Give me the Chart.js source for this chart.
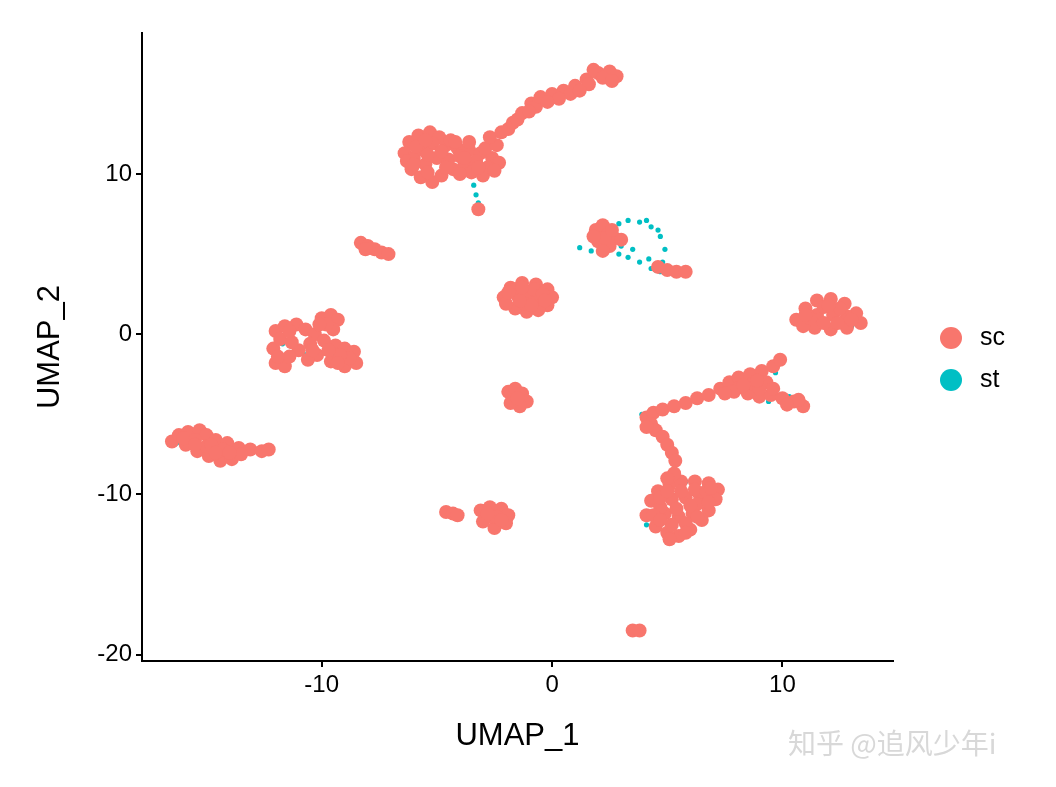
<!DOCTYPE html>
<html>
<head>
<meta charset="utf-8">
<script src="https://cdn.jsdelivr.net/npm/chart.js@4/dist/chart.umd.min.js"></script>
<style>
body { margin: 0; background: #fff; font-family: "Liberation Sans", Arial, sans-serif; }
#wrap { position: relative; width: 1056px; height: 787px; }
.leg { position: absolute; left: 940px; font-size: 25px; color: #000; }
.leg span { display: inline-block; width: 22px; height: 22px; border-radius: 50%; vertical-align: middle; margin-right: 18px; }
#mark { position: absolute; left: 788px; top: 722px; font-family: "Noto Sans CJK SC"; font-size: 28px; color: #d8d8d8; }
</style>
</head>
<body>
<div id="wrap">
<canvas id="chart" width="1056" height="787"></canvas>
<div class="leg" style="top:322px"><span style="background:#F8766D"></span>sc</div>
<div class="leg" style="top:364px"><span style="background:#00BFC4"></span>st</div>
<div id="mark">知乎 @追风少年i</div>
</div>
<script>
// groups and tick values
const groups = ['sc', 'st'];
const xTicks = [-10, 0, 10];
const yTicks = [-20, -10, 0, 10];

// sc cells
const scTop = [[-6.2,12.0],[-5.8,12.4],[-5.3,12.6],[-4.9,12.3],[-6.4,11.3],[-6.0,11.0],[-5.6,11.5],[-5.2,11.9],[-4.6,11.8],[-4.1,11.6],[-3.6,11.5],[-3.1,11.3],[-2.6,11.0],[-2.3,10.7],[-6.1,10.3],[-5.7,9.8],[-5.2,9.5],[-4.8,9.9],[-4.3,10.3],[-3.8,10.6],[-3.3,10.8],[-2.8,10.4],[-5.5,10.6],[-5.0,11.0],[-4.5,10.9],[-4.0,11.1],[-3.5,10.1],[-3.0,9.9],[-5.9,11.7],[-6.3,10.8],[-4.4,12.1],[-2.5,10.2],
  [-5.4,11.2],[-4.8,11.4],[-4.2,12.0],[-3.8,11.0],[-3.2,10.4],[-2.9,11.6],[-5.5,12.1],[-6.0,10.6],[-5.4,10.1],[-4.6,10.4],[-4.0,10.0],[-3.6,12.0],[-2.4,11.8],
  [-2.7,12.3],[-2.2,12.6],[-1.9,12.8],[-1.7,13.2],[-1.5,13.4],[-1.3,13.8],[-0.9,14.4],[-0.7,14.2],[-0.5,14.8],[0,15.0],[0.5,15.2],[0.8,15.0],[1.0,15.5],[1.5,15.9],[1.6,15.6],[2.0,16.3],[2.5,16.4],[2.8,16.1],[1.8,16.5],[2.2,16.0],[0.3,14.7],[-0.2,14.5],[-1.0,13.9],[1.2,15.2],[2.6,15.8]];
const scSmall = [[-8.3,5.7],[-8.0,5.5],[-7.7,5.3],[-7.4,5.1],[-7.1,5.0],[-8.1,5.3],[-3.2,7.8]];
const scRing = [[1.9,6.5],[2.2,6.8],[2.4,6.2],[2.0,5.8],[2.5,5.5],[2.2,5.2],[2.7,6.0],[3.0,5.9],[2.3,6.0],[2.6,6.5],[1.8,6.1],[4.6,4.2],[5.0,4.0],[5.4,3.9],[5.8,3.9]];
const scCenter = [[-2.1,2.3],[-1.8,2.9],[-1.3,3.2],[-0.7,3.1],[-0.2,2.8],[0,2.3],[-0.2,1.8],[-0.6,1.5],[-1.1,1.4],[-1.6,1.6],[-2.0,1.9],[-1.5,2.4],[-1.0,2.6],[-0.6,2.2],[-1.2,1.9],[-0.8,2.8],[-1.6,2.8],[-1.9,2.6],[-0.4,2.5],[-0.9,1.8],[-1.4,2.1],[-0.3,2.1],[-1.3,2.9]];
const scRight = [[10.6,0.9],[11.0,1.6],[11.5,2.1],[12.1,2.2],[12.7,1.9],[13.2,1.3],[13.4,0.7],[12.8,0.4],[12.1,0.3],[11.4,0.4],[10.9,0.5],[11.5,1.2],[12.2,1.2],[12.8,1.1],[11.8,1.7],[12.4,0.7],[11.2,1.0],[12.5,1.6],[13.0,0.9],[11.8,0.7],[12.0,1.8],[11.0,1.2]];
const scLeft = [[-12.1,-0.9],[-12.0,-1.8],[-11.6,-2.0],[-12.0,0.2],[-11.6,0.5],[-11.1,0.6],[-10.7,0.3],[-10.3,0.0],[-10.5,-0.6],[-11.0,-1.0],[-11.4,-1.4],[-10.0,1.0],[-9.6,1.2],[-9.3,0.9],[-9.5,0.3],[-9.9,-0.4],[-9.4,-0.7],[-9.0,-0.9],[-8.6,-1.1],[-8.5,-1.8],[-9.0,-2.0],[-9.6,-1.7],[-10.2,-1.3],[-10.6,-1.6],[-9.8,0.6],[-8.8,-1.5],
  [-11.8,-0.3],[-11.3,-0.5],[-11.9,-1.4],[-11.4,0.2],[-10.1,0.6],[-9.2,-1.3],[-9.3,-1.8],[-10.4,-1.0],[-9.7,-1.0]];
const scMid = [[-1.9,-3.6],[-1.6,-3.4],[-1.3,-3.7],[-1.1,-4.2],[-1.4,-4.5],[-1.8,-4.3],[-1.5,-4.0]];
const scFarLeft = [[-16.5,-6.7],[-16.2,-6.3],[-15.8,-6.1],[-15.3,-6.0],[-15.0,-6.3],[-14.6,-6.6],[-14.1,-6.8],[-13.6,-7.1],[-13.1,-7.2],[-12.6,-7.3],[-12.3,-7.2],[-15.9,-6.9],[-15.4,-7.3],[-14.9,-7.6],[-14.4,-7.9],[-13.9,-7.8],[-14.3,-7.2],[-15.0,-7.0],[-13.5,-7.5],
  [-16.0,-6.5],[-15.5,-6.6],[-14.8,-6.9],[-14.0,-7.4],[-15.5,-6.9],[-14.6,-7.4]];
const scArm = [[4.1,-5.2],[4.4,-4.9],[4.8,-4.7],[5.3,-4.5],[5.8,-4.3],[6.3,-4.0],[6.8,-3.8],[7.3,-3.4],[7.7,-3.0],[8.1,-2.7],[8.6,-2.5],[9.1,-2.3],[9.6,-2.0],[9.9,-1.6],[8.0,-3.4],[8.5,-3.7],[9.0,-3.9],[9.5,-3.8],[10.0,-4.0],[10.5,-4.2],[10.9,-4.5],[10.7,-4.1],[9.3,-3.0],[8.7,-3.1],[4.3,-5.6],[4.5,-6.0],[4.8,-6.4],[5.0,-6.9],[5.2,-7.4],[5.35,-7.9],[4.1,-5.8],
  [7.9,-3.6],[8.3,-3.2],[9.0,-3.4],[9.6,-3.4],[10.2,-4.4],[7.5,-3.7],[8.9,-2.9]];
const scBottom = [[4.1,-11.3],[4.3,-10.4],[4.6,-9.8],[5.1,-9.4],[5.6,-9.2],[6.2,-9.2],[6.8,-9.3],[7.2,-9.7],[7.1,-10.3],[6.8,-11.0],[6.5,-11.6],[6.0,-12.2],[5.5,-12.6],[5.0,-12.4],[4.5,-12.0],[5.2,-10.3],[5.8,-10.2],[6.4,-10.0],[4.9,-11.2],[5.5,-11.4],[6.1,-11.2],[5.3,-8.7],[5.0,-9.0],[4.7,-10.8],[6.3,-10.6],
  [4.4,-11.3],[4.7,-10.2],[5.0,-9.8],[5.6,-9.8],[6.2,-9.7],[6.7,-9.8],[6.8,-10.5],[6.3,-11.4],[5.8,-11.8],[5.2,-11.9],[4.7,-11.6],[5.4,-10.9],[6.0,-10.7],[5.8,-12.4],[6.9,-9.6],[5.1,-12.8]];
const scLow = [[-3.1,-11.0],[-2.7,-10.8],[-2.2,-10.9],[-1.9,-11.3],[-2.0,-11.8],[-2.5,-12.1],[-3.0,-11.7],[-2.6,-11.4],[-2.4,-11.4],[-2.8,-11.2],[-2.2,-11.6],[-4.6,-11.1],[-4.3,-11.2],[-4.1,-11.3],[3.5,-18.5],[3.8,-18.5]];

// st cells
const stPts = [[-3.4,9.3],[-3.3,8.7],[-3.2,8.2],[-3.1,7.9],[-3.3,7.7],
  [1.2,5.4],[1.7,5.2],[2.9,5.0],[3.3,4.8],[3.8,4.5],[4.3,4.1],[4.7,3.9],[5.0,4.2],[4.9,5.3],[4.7,6.1],[4.3,6.7],[3.8,7.0],[3.3,7.1],[2.9,6.9],[4.5,4.0],[3.5,5.3],[3.0,5.5],[4.1,7.1],[4.6,6.5],[4.2,4.7],[2.1,5.6],[4.8,4.5],
  [10.6,0.7],[11.2,0.5],[13.0,0.5],
  [-11.7,-0.6],[-10.8,-1.2],[-9.5,-1.3],[-12.0,-1.3],
  [-14.5,-8.1],[-16.3,-6.8],
  [3.9,-5.0],[6.9,-3.9],[9.0,-2.6],[9.7,-2.4],[10.3,-3.9],[9.4,-4.2],
  [4.1,-11.9],[5.8,-9.2],[6.6,-9.6],[-3.0,-10.8],[-6.0,11.8],[-4.4,10.7]];

const scPts = [].concat(scTop, scSmall, scRing, scCenter, scRight, scLeft, scMid, scFarLeft, scArm, scBottom, scLow);
const toXY = a => a.map(p => ({x: p[0], y: p[1]}));

const font = {family: '"Liberation Sans", Arial, sans-serif'};
const axisGrid = {display: true, drawOnChartArea: false, drawTicks: true, tickLength: 6, color: '#000', lineWidth: 2};
new Chart(document.getElementById('chart'), {
  type: 'scatter',
  data: {
    datasets: [
      {label: groups[0], data: toXY(scPts), backgroundColor: '#F8766D', borderWidth: 0, pointRadius: 7},
      {label: groups[1], data: toXY(stPts), backgroundColor: '#00BFC4', borderWidth: 0, pointRadius: 2.6}
    ]
  },
  options: {
    responsive: false,
    animation: false,
    events: [],
    layout: {padding: {top: 33, right: 163, left: 28, bottom: 28}},
    plugins: {legend: {display: false}, tooltip: {enabled: false}},
    scales: {
      x: {
        min: -17.8, max: 14.8,
        afterBuildTicks: s => { s.ticks = xTicks.map(v => ({value: v})); },
        afterFit: s => { s.height = 787 - 661 - 28; },
        grid: axisGrid,
        border: {color: '#000', width: 2},
        ticks: {color: '#000', font: {...font, size: 24}, padding: 4},
        title: {display: true, text: 'UMAP_1', color: '#000', font: {...font, size: 31}, padding: {top: 2}}
      },
      y: {
        min: -20.4, max: 18.8,
        afterBuildTicks: s => { s.ticks = yTicks.map(v => ({value: v})); },
        afterFit: s => { s.width = 142 - 28; },
        grid: axisGrid,
        border: {color: '#000', width: 2},
        ticks: {color: '#000', font: {...font, size: 24}, padding: 4},
        title: {display: true, text: 'UMAP_2', color: '#000', font: {...font, size: 31}, padding: {bottom: 4}}
      }
    }
  }
});
</script>
</body>
</html>
